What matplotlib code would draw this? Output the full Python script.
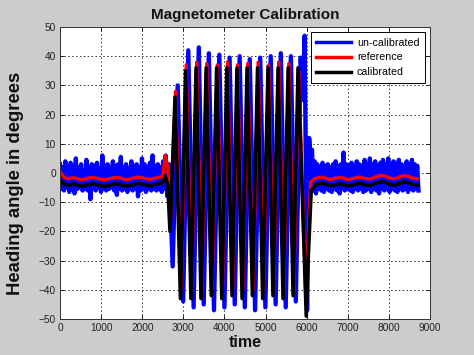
import numpy as np
import matplotlib
matplotlib.use("Agg")
import matplotlib.pyplot as plt

plt.rcParams['font.family'] = ['Liberation Sans', 'DejaVu Sans']

# ---------------- data ----------------
# flat part before the manoeuvre (sampled every 100 time units, 0..2500)
red_pre = [0.5, -1.5, -2, -1.6, -1.8, -2.3, -2.1, -1.7, -1.5, -1.8, -2.2, -2.4, -2,
           -1.6, -1.5, -1.9, -2.3, -2.1, -1.7, -1.4, -1.6, -2, -2.2, -1.8, -1.5, -1.2]
black_pre = [-2.5, -3.8, -4.2, -3.8, -4, -4.5, -4.3, -3.9, -3.7, -4, -4.4, -4.6, -4.2,
             -3.8, -3.7, -4.1, -4.5, -4.3, -3.9, -3.6, -3.8, -4.2, -4.4, -4, -3.7, -3.4]
# blue noise before the manoeuvre (dense samples, 0..2540)
blue_pre = [3, -5.5, 2, -6, 4, -5, 1.5, -6.5, 3.5, -5.5, 2.5, -7, 5, -5.5, 2, -5, 3, -6, 1, -5.5,
            4.5, -6, 2, -9, 3, -5.5, 2.5, -6, 3.5, -5, 1.5, -6.5, 6, -5.5, 2.5, -6, 3, -5.5, 2, -5,
            4, -6, 2.5, -7.5, 3, -5.5, 5.5, -6, 2, -5.5, 3, -6.5, 1.5, -5.5, 4, -6, 2.5, -5.5, 3, -8,
            2, -6, 5, -5.5, 3, -6.5, 2, -5.5, 3.5, -6, 6, -5.5, 2.5, -6, 3, -5.5, 2, -6.5, 4, -5.5]

# oscillation (turning points)
red_osc_t = [2560, 2620, 2690, 2810, 2945, 3070, 3200, 3325, 3445, 3570, 3695, 3825, 3950,
             4075, 4200, 4320, 4445, 4565, 4695, 4820, 4945, 5075, 5195, 5320, 5440, 5565,
             5685, 5805, 5985, 6040, 6100]
red_osc_v = [6, 2, -16, 28, -40, 37, -40, 38, -40, 37.5, -40, 37, -40,
             38, -40, 37, -40, 37.5, -40, 38, -40, 37, -40, 38, -40, 37.5,
             -40, 35, -45, -20, -3]
black_osc_t = [2560, 2620, 2676, 2798, 2930, 3055, 3185, 3310, 3430, 3555, 3680, 3810, 3935,
               4060, 4185, 4305, 4430, 4550, 4680, 4805, 4930, 5060, 5180, 5305, 5425, 5550,
               5670, 5790, 5990, 6035, 6110]
black_osc_v = [-1, -4, -20, 26, -43, 35, -43, 36, -43, 36, -42, 36, -43,
               36, -42, 36, -43, 36, -42, 36, -43, 36, -42, 36, -43, 36,
               -42, 36, -49, -30, -6]
blue_osc_t = [2570, 2610, 2650, 2740, 2863, 2995, 3120, 3250, 3375, 3495, 3620, 3745, 3875,
              4000, 4125, 4250, 4370, 4495, 4615, 4745, 4870, 4995, 5125, 5245, 5370, 5490,
              5615, 5735, 5855, 5900, 5950, 6010, 6060, 6100]
blue_osc_v = [6, -8, 3, -32, 30, -44, 42, -46, 43, -45, 41, -47, 40.5,
              -46, 39.5, -45, 40, -46, 39, -47, 39.5, -46, 40, -45, 41, -46,
              40, -44, 39.5, 25, 47, -47, 12, 4]

# flat part after the manoeuvre (every 100 time units, 6200..8700)
red_post = [-2, -1.5, -1.5, -2, -2.2, -1.8, -1.5, -1.8, -2.2, -2, -1.6, -1.4, -1.8,
            -2.1, -1.8, -1.2, -0.8, -1, -1.6, -2, -1.7, -1.1, -0.9, -1.3, -1.8, -2]
black_post = [-4.2, -3.6, -3.6, -4, -4.3, -4, -3.7, -4, -4.4, -4.2, -3.8, -3.6, -4,
              -4.3, -4, -3.4, -3, -3.2, -3.8, -4.2, -3.9, -3.3, -3.1, -3.5, -4, -4.2]
blue_post = [8, -6, 4, -7, 3, -5.5, 2, -6, 3.5, -6.5, 2.5, -5.5, 3, -6, 2, -6.5, 3, -5.5, 4, -6,
             2.5, -7, 3, -5.5, 7, -6, 3, -5.5, 2.5, -6, 3.5, -6.5, 2, -5.5, 4, -6, 3, -5.5, 2.5, -6.5,
             4.5, -6, 3, -5.5, 5, -6.5, 3, -5.5, 4, -6, 2.5, -7, 3.5, -5.5, 4.5, -6, 3, -5.5, 5, -6.5,
             2.5, -5.5, 4, -6, 3, -6.5, 4.5, -5.5, 3, -6, 2.5, -5.5, 4, -6.5, 3, -5.5, 4.5, -6, 3, -5.5,
             2.5, -6]

xticks = [0, 1000, 2000, 3000, 4000, 5000, 6000, 7000, 8000, 9000]
yticks = [-50, -40, -30, -20, -10, 0, 10, 20, 30, 40, 50]

# ---------------- assemble series ----------------
t_pre_slow = np.linspace(0, 2500, len(red_pre))
t_post_slow = np.linspace(6200, 8700, len(red_post))
t_blue_pre = np.linspace(0, 2540, len(blue_pre))
t_blue_post = np.linspace(6130, 8720, len(blue_post))

red_t = np.concatenate([t_pre_slow, red_osc_t, t_post_slow])
red_v = np.concatenate([red_pre, red_osc_v, red_post])
black_t = np.concatenate([t_pre_slow, black_osc_t, t_post_slow])
black_v = np.concatenate([black_pre, black_osc_v, black_post])
blue_t = np.concatenate([t_blue_pre, blue_osc_t, t_blue_post])
blue_v = np.concatenate([blue_pre, blue_osc_v, blue_post])

# ---------------- figure ----------------
fig = plt.figure(figsize=(4.74, 3.55), dpi=100, facecolor='#cccccc')
ax = fig.add_axes([0.1266, 0.1014, 0.7806, 0.8226])
ax.set_facecolor('white')

ax.plot(blue_t, blue_v, color='#0000ff', lw=3.1, label='un-calibrated')
ax.plot(red_t, red_v, color='#ff0000', lw=2.4, label='reference')
ax.plot(black_t, black_v, color='black', lw=2.6, label='calibrated')

ax.set_xlim(0, 9000)
ax.set_ylim(-50, 50)
ax.set_xticks(xticks)
ax.set_yticks(yticks)
ax.tick_params(direction='in', top=True, right=True, length=3, width=0.6,
               labelsize=7.3, labelcolor='#222222', pad=3)
ax.grid(True, linestyle=(0, (1.5, 2.5)), color='#333333', lw=0.7)
ax.set_axisbelow(True)
for s in ax.spines.values():
    s.set_linewidth(0.7)
    s.set_color('#333333')

ax.set_title('Magnetometer Calibration', fontsize=11, fontweight='bold', pad=6, color='#111111')
ax.set_xlabel('time', fontsize=11.5, fontweight='bold', labelpad=1, color='#111111')
ax.set_ylabel('Heading angle in degrees', fontsize=13.3, fontweight='bold', color='#111111')
ax.yaxis.set_label_coords(-0.097, 0.465)

leg = ax.legend(loc='upper right', fontsize=7.7, fancybox=False, framealpha=1,
                edgecolor='black', handlelength=3.3, borderpad=0.5, labelspacing=0.45,
                borderaxespad=0.5, handletextpad=0.5)
leg.get_frame().set_linewidth(0.7)
for line in leg.get_lines():
    line.set_linewidth(2.5)

fig.savefig('out.png', dpi=100, facecolor=fig.get_facecolor())
